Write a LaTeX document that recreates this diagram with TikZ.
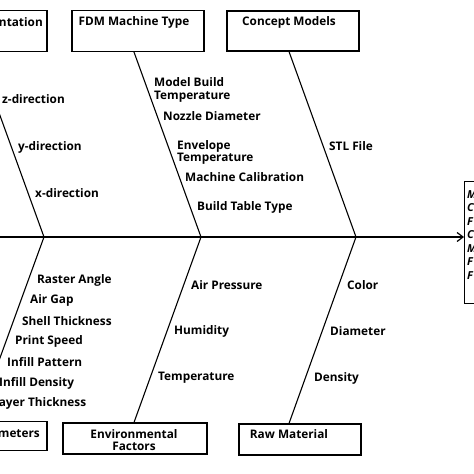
\documentclass[tikz,border=0pt]{standalone}
\usepackage{fontspec}
\setmainfont{Open Sans}
\usetikzlibrary{positioning,arrows.meta}

\begin{document}
\begin{tikzpicture}[x=1pt,y=-1pt,font=\bfseries\fontsize{11.8}{13}\selectfont,
	causebox/.style={draw,line width=1.1pt,inner sep=0pt},
	title/.style={inner sep=0pt,align=center},
	item/.style={inner sep=0pt,anchor=west},
	bone/.style={line width=1.1pt}]
	\useasboundingbox (0,0) rectangle (474,474);
	\clip (0,0) rectangle (474,474);

	% spine and effect
	\node[causebox,anchor=north west,minimum width=60pt,minimum height=122pt] (effect) at (464,181) {};
	\node[item,anchor=north west,align=left,font=\bfseries\itshape\fontsize{11}{13.5}\selectfont] (effectt) at (467,190) {M\\C\\F\\C\\M\\F\\F};
	\coordinate (tail) at (-5,237);
	\draw[line width=1.5pt,-{Straight Barb[length=6pt,width=9pt,line width=1.2pt]}] (tail) -- (effect.west |- tail);

	% top causes
	\node[causebox,minimum width=134pt,minimum height=41pt] (orient) at (-20,31) {};
	\node[title,anchor=east] (orientt) at (43,22) {Build Orientation};
	\node[causebox,minimum width=132pt,minimum height=41pt] (fdm) at (138,31) {};
	\node[title] (fdmt) at (134,22) {FDM Machine Type};
	\node[causebox,minimum width=132pt,minimum height=40pt] (concept) at (293,31) {};
	\node[title] (conceptt) at (289,22) {Concept Models};

	\coordinate (orientj) at (44,237);
	\coordinate (fdmj) at (201,237);
	\coordinate (conceptj) at (356,237);
	\draw[bone] (orient.south -| -23,0) -- (orientj);
	\draw[bone] (fdmt |- fdm.south) -- (fdmj);
	\draw[bone] (conceptt |- concept.south) -- (conceptj);

	% bottom causes
	\node[causebox,minimum width=134pt,minimum height=29pt] (param) at (-20,436) {};
	\node[title,anchor=east] (paramt) at (40,433) {Process Parameters};
	\node[causebox,minimum width=144pt,minimum height=31pt] (env) at (135,438.5) {};
	\node[title] (envt) at (134,440) {Environmental\\[-1pt]Factors};
	\node[causebox,minimum width=122pt,minimum height=31pt] (raw) at (300,439.5) {};
	\node[title] (rawt) at (289,434) {Raw Material};

	\draw[bone] (orientj) -- (param.north -| -23,0);
	\draw[bone] (fdmj) -- (envt |- env.north);
	\draw[bone] (conceptj) -- (rawt |- raw.north);

	% sub-causes
	\node[item] (zdir) at (2,99) {z-direction};
	\node[item] (ydir) at (18,147) {y-direction};
	\node[item] (xdir) at (35,193) {x-direction};

	\node[item,align=left] (mbt) at (154,90) {Model Build\\Temperature};
	\node[item] (nozzle) at (163,116) {Nozzle Diameter};
	\node[item,align=left] (envelope) at (177,152.5) {Envelope\\[-1.5pt]Temperature};
	\node[item] (calib) at (185,177) {Machine Calibration};
	\node[item] (table) at (197,207) {Build Table Type};

	\node[item] (stl) at (329,146) {STL File};

	\node[item] (raster) at (37,280) {Raster Angle};
	\node[item] (airgap) at (30,300) {Air Gap};
	\node[item] (shell) at (22,321) {Shell Thickness};
	\node[item] (speed) at (15,341) {Print Speed};
	\node[item] (pattern) at (7,362) {Infill Pattern};
	\node[item] (density) at (-1,383) {Infill Density};
	\node[item] (layer) at (-8,403) {Layer Thickness};

	\node[item] (airp) at (191,285) {Air Pressure};
	\node[item] (humid) at (174,331) {Humidity};
	\node[item] (temp) at (158,378) {Temperature};

	\node[item] (color) at (347,285) {Color};
	\node[item] (diam) at (330,331) {Diameter};
	\node[item] (dens) at (314,378) {Density};
\end{tikzpicture}
\end{document}
